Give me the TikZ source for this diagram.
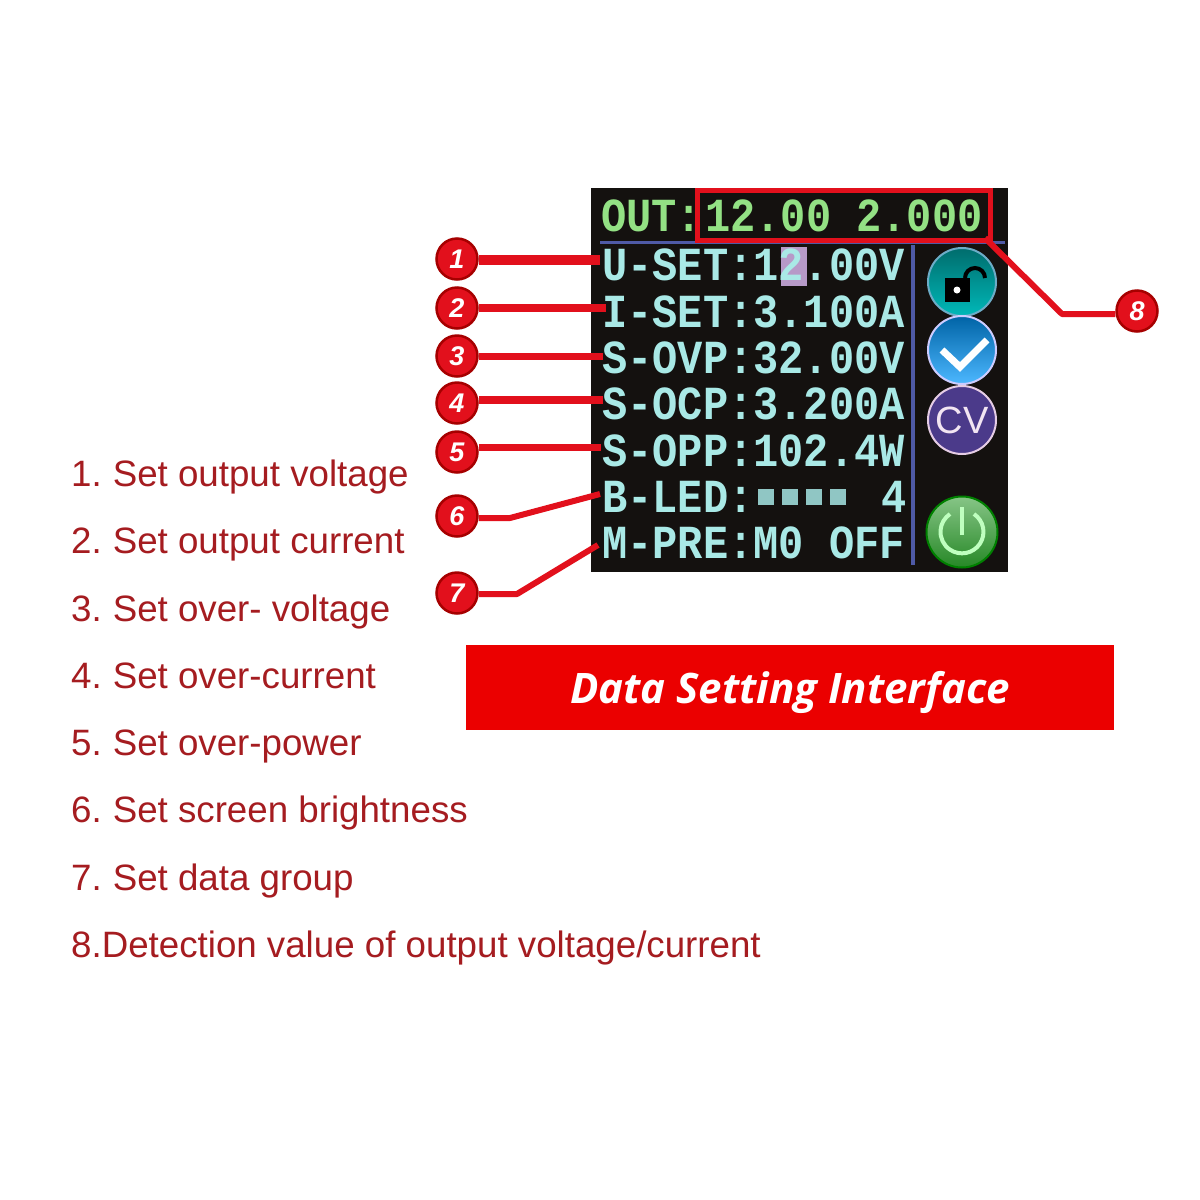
\documentclass[tikz,border=0pt]{standalone}
\usepackage{fontspec}
\setmainfont{Liberation Sans}
\setmonofont{Liberation Mono}
\newfontfamily\bannerfont{Open Sans}
\usetikzlibrary{shapes,backgrounds}

\definecolor{screenblack}{HTML}{14110F}
\definecolor{lcdcyan}{HTML}{A9E9E6}
\definecolor{lcdgreen}{HTML}{93E184}
\definecolor{lcdblue}{HTML}{4F5AA6}
\definecolor{lcdmark}{HTML}{B79AC8}
\definecolor{markred}{HTML}{E2101C}
\definecolor{legendred}{HTML}{A51C20}
\definecolor{cvpurple}{HTML}{4B3A8A}

\newcommand{\lcdtall}[1]{\scalebox{1}[1.13]{#1}}

\tikzset{
    lcdline/.style={anchor=base west, inner sep=0pt, text=lcdcyan, font=\fontsize{42}{42}\selectfont\ttfamily\bfseries},
    lcdout/.style={lcdline, text=lcdgreen},
    badge/.style={circle, minimum size=41pt, inner sep=0pt, fill=markred, draw=red!65!black, line width=2.5pt, text=white, font=\fontsize{27}{27}\selectfont\bfseries\itshape},
    lead/.style={draw=markred, line width=7pt, line join=round},
    legend/.style={anchor=base west, inner sep=0pt, text=legendred, font=\fontsize{36.7}{36.7}\selectfont},
    icon/.style={circle, minimum size=68pt, inner sep=0pt, line width=2pt}
}

\begin{document}
\begin{tikzpicture}[x=1pt, y=-1pt]
    \useasboundingbox[fill=white] (0,0) rectangle (1200,1200);

    % screen
    \node[rectangle, fill=screenblack, minimum width=417pt, minimum height=384pt, inner sep=0pt] (screen) at (799.5,380) {};
    \draw[lcdblue, line width=3pt] (600,242) -- (1005,242);
    \draw[lcdblue, line width=4pt] (913,245) -- (913,565);
    \fill[lcdmark] (781,247) rectangle (807,286);

    \node[lcdout] (out) at (601,231) {\lcdtall{OUT:}};
    \node[lcdout] (readvalue) at (705,231) {\lcdtall{12.00 2.000}};
    \node[lcdline] (uset) at (602,280) {\lcdtall{U-SET:12.00V}};
    \node[lcdline] (iset) at (602,327) {\lcdtall{I-SET:3.100A}};
    \node[lcdline] (sovp) at (602,373) {\lcdtall{S-OVP:32.00V}};
    \node[lcdline] (socp) at (602,419) {\lcdtall{S-OCP:3.200A}};
    \node[lcdline] (sopp) at (602,466) {\lcdtall{S-OPP:102.4W}};
    \node[lcdline] (bled) at (602,512) {\lcdtall{B-LED:}};
    \foreach \x in {766,790,814,838}
        \fill[lcdcyan!85!black] (\x-8,489) rectangle (\x+8,505);
    \node[lcdline] (blevel) at (881,512) {\lcdtall{4}};
    \node[lcdline] (mpre) at (602,558) {\lcdtall{M-PRE:M0 OFF}};

    % readout box
    \node[rectangle, draw=markred, line width=5pt, minimum width=293pt, minimum height=50pt, inner sep=0pt] (readout) at (843.5,215) {};

    % icons
    \node[icon, top color=teal!85!black, bottom color=cyan!45!teal, draw=cyan!35!teal!70!white] (lock) at (962,282) {};
    \fill[black] (945,278) rectangle (970,302);
    \fill[white] (957,290) circle (3.5pt);
    \draw[black, line width=4pt] (965,278) arc (180:360:10);
    \node[icon, top color=blue!40!cyan!65!black, bottom color=cyan!60!blue!70, draw=blue!20!white] (check) at (962,350) {};
    \draw[white, line width=7pt, line join=miter] (942,350) -- (960,367) -- (987,340);
    \node[icon, fill=cvpurple, draw=violet!20!white, text=violet!10!white, font=\fontsize{38}{38}\selectfont] (cv) at (962,420) {CV};
    \node[icon, minimum size=71pt, top color=green!35!gray!70, bottom color=green!45!black!85, draw=green!50!black] (power) at (962,532) {};
    \draw[green!25!white, line width=4pt] (974,514) arc (-56:236:21.5);
    \draw[green!25!white, line width=4pt] (962,507) -- (962,535);

    % badges
    \node[badge] (a) at (457,259) {1};
    \node[badge] (b) at (457,308) {2};
    \node[badge] (c) at (457,356) {3};
    \node[badge] (d) at (457,403) {4};
    \node[badge] (e) at (457,452) {5};
    \node[badge] (f) at (457,516) {6};
    \node[badge] (g) at (457,593) {7};
    \node[badge] (h) at (1137,311) {8};

    \coordinate (atip) at (600,260);
    \coordinate (btip) at (606,308);
    \coordinate (ctip) at (603,356);
    \coordinate (dtip) at (603,400);
    \coordinate (etip) at (601,447);
    \coordinate (fbend) at (510,518);
    \coordinate (ftip) at (600,494);
    \coordinate (gbend) at (517,594);
    \coordinate (gtip) at (598,545);
    \coordinate (hbend) at (1062,314);
    \coordinate (htip) at (985,238);

    \draw[lead, line width=10pt] (a.east |- atip) -- (atip);
    \draw[lead, line width=8.5pt] (b.east |- btip) -- (btip);
    \draw[lead] (c.east |- ctip) -- (ctip);
    \draw[lead, line width=8.5pt] (d.east |- dtip) -- (dtip);
    \draw[lead] (e.east |- etip) -- (etip);
    \draw[lead, line width=6pt] (f.east |- fbend) -- (fbend) -- (ftip);
    \draw[lead, line width=6pt] (g.east |- gbend) -- (gbend) -- (gtip);
    \draw[lead, line width=6pt] (h.west |- hbend) -- (hbend) -- (htip);

    % banner
    \node[rectangle, fill=red!92!black, minimum width=648pt, minimum height=85pt, inner sep=0pt, text height=40pt, text depth=8pt, text=white, font=\fontsize{42}{42}\selectfont\bannerfont\bfseries\itshape] (banner) at (790,687.5) {Data Setting Interface};

    % legend
    \node[legend] (l1) at (71,486) {1.\kern11pt Set output voltage};
    \node[legend] (l2) at (71,553) {2.\kern11pt Set output current};
    \node[legend] (l3) at (71,621) {3.\kern11pt Set over- voltage};
    \node[legend] (l4) at (71,688) {4.\kern11pt Set over-current};
    \node[legend] (l5) at (71,755) {5.\kern11pt Set over-power};
    \node[legend] (l6) at (71,822) {6.\kern11pt Set screen brightness};
    \node[legend] (l7) at (71,890) {7.\kern11pt Set data group};
    \node[legend] (l8) at (71,957) {8.Detection value of output voltage/current};
\end{tikzpicture}
\end{document}
